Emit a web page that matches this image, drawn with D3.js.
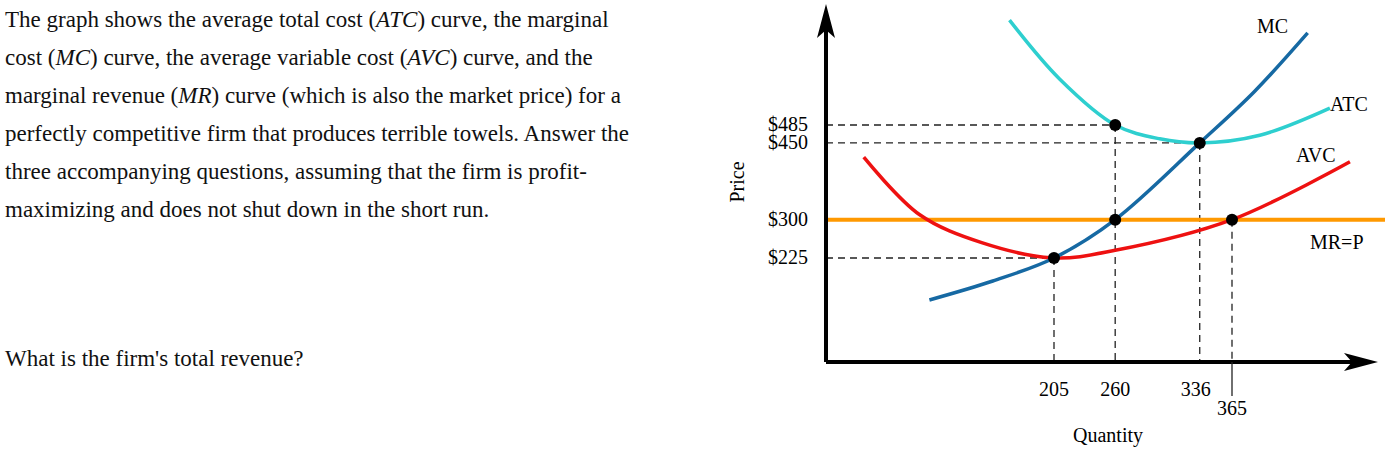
<!DOCTYPE html>
<html lang="en">
<head>
<meta charset="UTF-8">
<title>Cost curves</title>
<style>
    body { margin: 0; background: #fff; font-family: "Liberation Serif", serif; }
    #intro { position: absolute; left: 5px; top: 1px; width: 640px; font-size: 23px; line-height: 38px; color: #111; }
    #question { position: absolute; left: 5px; top: 346px; font-size: 23px; color: #111; }
    svg { position: absolute; left: 0; top: 0; }
</style>
</head>
<body>
<div id="intro">The graph shows the average total cost (<i>ATC</i>) curve, the marginal cost (<i>MC</i>) curve, the average variable cost (<i>AVC</i>) curve, and the marginal revenue (<i>MR</i>) curve (which is also the market price) for a perfectly competitive firm that produces terrible towels. Answer the three accompanying questions, assuming that the firm is profit-maximizing and does not shut down in the short run.</div>
<div id="question">What is the firm's total revenue?</div>
<div id="chart"></div>
<script src="https://d3js.org/d3.v7.min.js"></script>
<script>
    // curve points: [quantity, price]
    const mcData = [[93, 143], [150, 180], [205, 225], [260, 300], [336, 450], [385, 550], [433, 665]];
    const atcData = [[165, 690], [210, 575], [260, 485], [300, 458], [336, 450], [390, 465], [453, 518]];
    const avcData = [[34, 422], [84, 310], [140, 255], [205, 225], [260, 240], [365, 300], [471, 413]];
    const price = 300;
    const priceTicks = [485, 450, 300, 225];
    const qtyTicks = [205, 260, 336, 365];
    // marked points [quantity, price]
    const dots = [[205, 225], [260, 300], [260, 485], [336, 450], [365, 300]];

    const svg = d3.select('#chart').append('svg').attr('width', 1385).attr('height', 471);

    const x = d3.scaleLinear().domain([205, 365]).range([1054, 1232]);
    const y = d3.scaleLinear().domain([225, 485]).range([258, 125]);
    const x0 = 826, y0 = 362;

    const line = d3.line().x(d => x(d[0])).y(d => y(d[1])).curve(d3.curveCatmullRom);

    // dashed guides
    const guides = [[205, 225], [260, 485], [336, 450]];
    guides.forEach(g => {
        svg.append('line').attr('x1', x0).attr('x2', x(g[0])).attr('y1', y(g[1])).attr('y2', y(g[1]))
            .attr('stroke', '#222').attr('stroke-width', 1.3).attr('stroke-dasharray', '7,5');
    });
    [205, 260, 336, 365].forEach((q, i) => {
        const topP = [225, 485, 450, 300][i];
        svg.append('line').attr('x1', x(q)).attr('x2', x(q)).attr('y1', y(topP)).attr('y2', y0)
            .attr('stroke', '#222').attr('stroke-width', 1.3).attr('stroke-dasharray', '7,5');
    });

    // MR = P
    svg.append('line').attr('x1', x0).attr('x2', 1385).attr('y1', y(price)).attr('y2', y(price))
        .attr('stroke', '#ff9900').attr('stroke-width', 4);

    svg.append('path').datum(avcData).attr('d', line).attr('fill', 'none').attr('stroke', '#ee1111').attr('stroke-width', 3.5);
    svg.append('path').datum(atcData).attr('d', line).attr('fill', 'none').attr('stroke', '#2ecfcf').attr('stroke-width', 3.5);
    svg.append('path').datum(mcData).attr('d', line).attr('fill', 'none').attr('stroke', '#1669a3').attr('stroke-width', 3.5);

    svg.selectAll('.dot').data(dots).enter().append('circle')
        .attr('cx', d => x(d[0])).attr('cy', d => y(d[1])).attr('r', 6).attr('fill', '#000');

    // axes
    svg.append('line').attr('x1', x0).attr('x2', x0).attr('y1', y0).attr('y2', 22).attr('stroke', '#000').attr('stroke-width', 4);
    svg.append('line').attr('x1', x0).attr('x2', 1358).attr('y1', y0).attr('y2', y0).attr('stroke', '#000').attr('stroke-width', 4);
    svg.append('path').attr('d', `M${x0},4 L${x0 - 9},38 L${x0},30 L${x0 + 9},38 Z`).attr('fill', '#000');
    svg.append('path').attr('d', `M1378,${y0} L1344,${y0 - 9} L1352,${y0} L1344,${y0 + 9} Z`).attr('fill', '#000');

    const font = 'Liberation Serif, serif';
    svg.selectAll('.pt').data(priceTicks).enter().append('text')
        .attr('x', 808).attr('y', d => y(d) + 6).attr('text-anchor', 'end')
        .attr('font-family', font).attr('font-size', 20).text(d => '$' + d);
    svg.selectAll('.qt').data(qtyTicks).enter().append('text')
        .attr('x', d => x(d) + (d === 336 ? -4 : 0))
        .attr('y', d => d === 365 ? 415 : 396).attr('text-anchor', 'middle')
        .attr('font-family', font).attr('font-size', 20).text(d => d);
    svg.append('line').attr('x1', x(365)).attr('x2', x(365)).attr('y1', y0).attr('y2', 396).attr('stroke', '#222').attr('stroke-width', 1.3);

    svg.append('text').attr('transform', 'translate(744,182) rotate(-90)').attr('text-anchor', 'middle')
        .attr('font-family', font).attr('font-size', 20).text('Price');
    svg.append('text').attr('x', 1108).attr('y', 442).attr('text-anchor', 'middle')
        .attr('font-family', font).attr('font-size', 20).text('Quantity');

    const labels = [['MC', 1257, 33], ['ATC', 1330, 111], ['AVC', 1296, 162], ['MR=P', 1310, 249]];
    labels.forEach(l => svg.append('text').attr('x', l[1]).attr('y', l[2])
        .attr('font-family', font).attr('font-size', 20).text(l[0]));
</script>
</body>
</html>
